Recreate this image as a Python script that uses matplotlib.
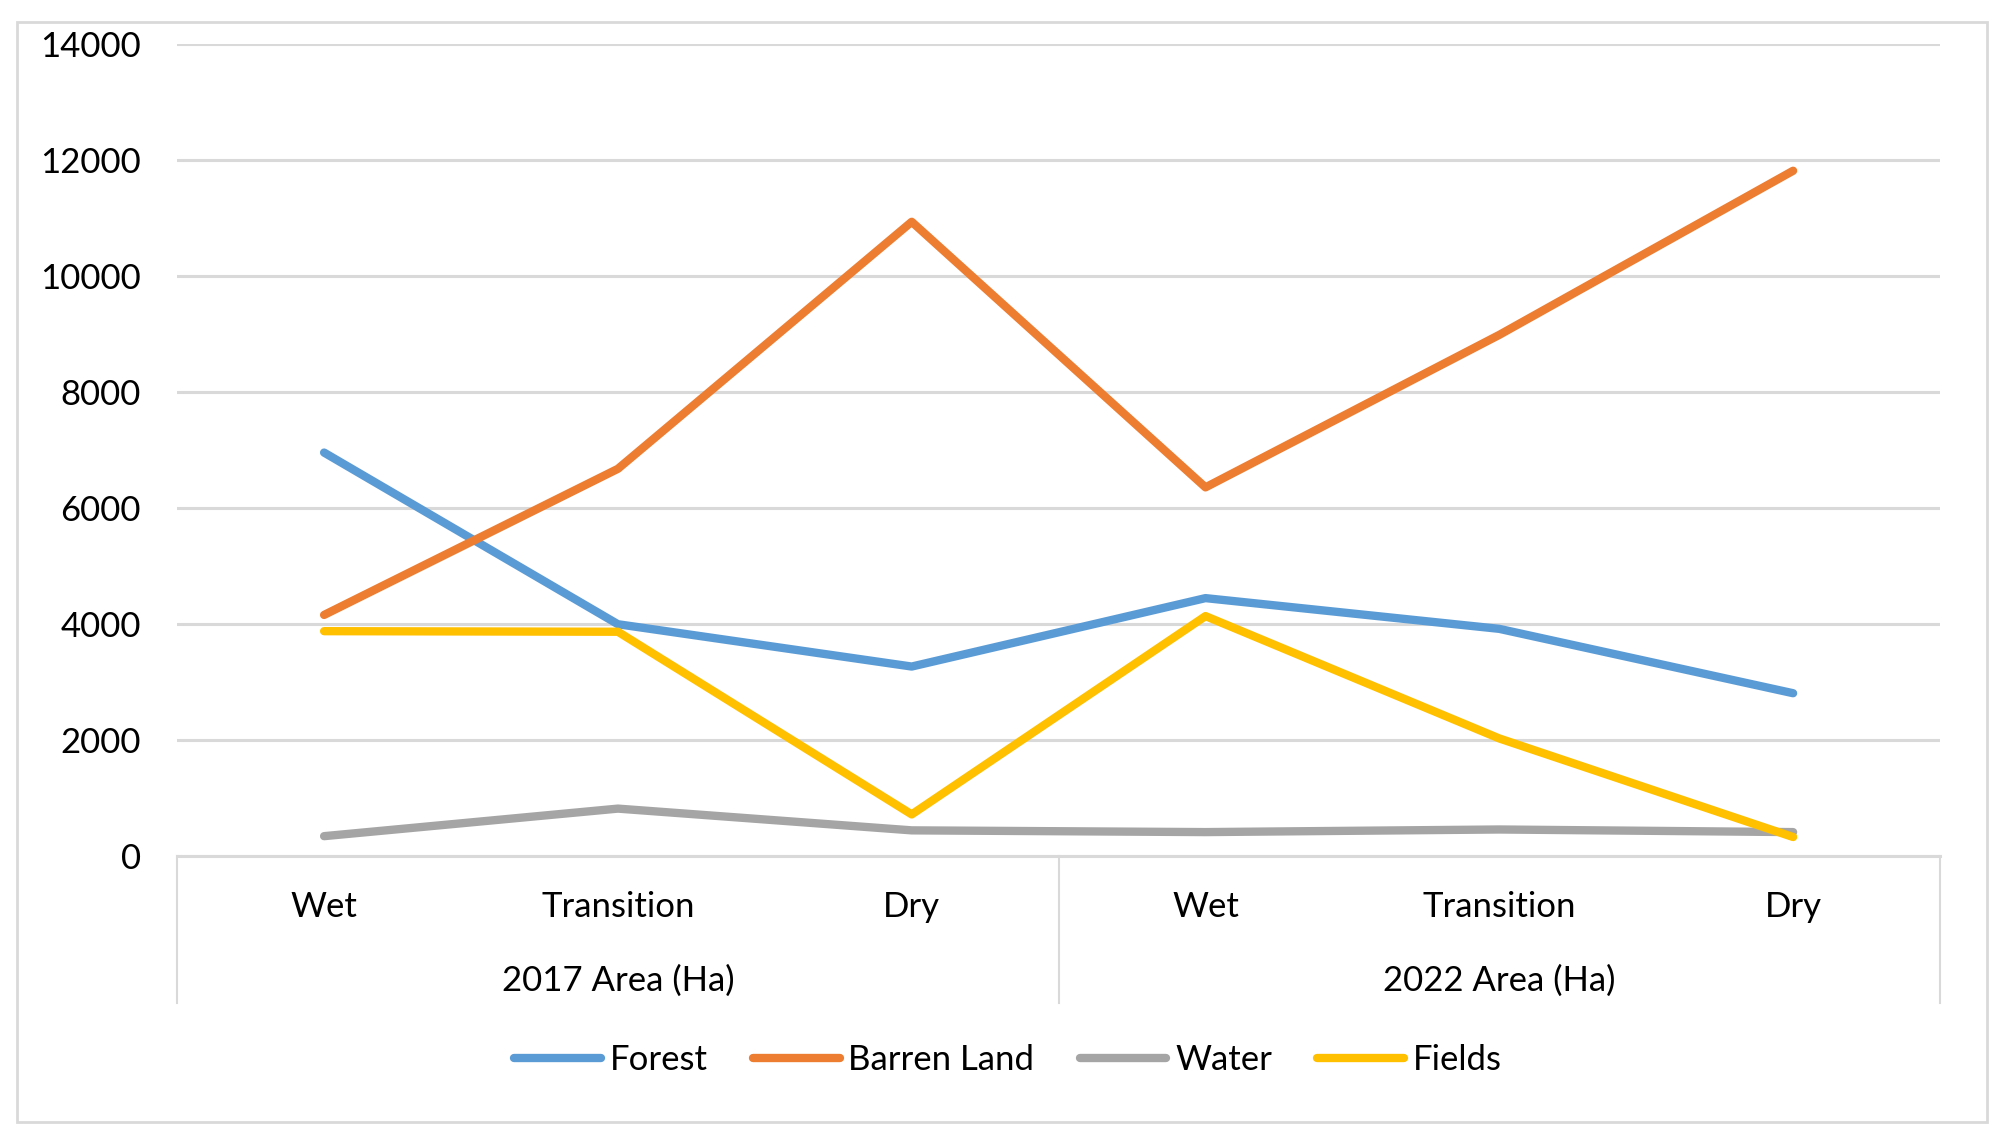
import matplotlib
matplotlib.use("Agg")
import matplotlib.pyplot as plt
import matplotlib.transforms as mtransforms
from matplotlib.patches import Rectangle

plt.rcParams['font.family'] = ['Lato', 'DejaVu Sans']

seasons = ["Wet", "Transition", "Dry", "Wet", "Transition", "Dry"]
groups = ["2017 Area (Ha)", "2022 Area (Ha)"]
group_sizes = [3, 3]

forest = [6960, 4000, 3270, 4450, 3920, 2810]
barren = [4160, 6680, 10940, 6360, 8990, 11820]
water = [345, 820, 445, 415, 460, 415]
fields = [3880, 3870, 720, 4140, 2030, 330]

series_names = ["Forest", "Barren Land", "Water", "Fields"]
series_values = [forest, barren, water, fields]
colors = ["#5B9BD5", "#ED7D31", "#A5A5A5", "#FFC000"]

yticks = [0, 2000, 4000, 6000, 8000, 10000, 12000, 14000]

grid_c = "#D9D9D9"
fs = 25

fig = plt.figure(figsize=(20, 11.37), dpi=100)
ax = fig.add_axes([0.0886, 0.247, 0.970 - 0.0886, 0.961 - 0.247])

x = list(range(len(seasons)))
for name, vals, c in zip(series_names, series_values, colors):
    ax.plot(x, vals, color=c, lw=6, solid_capstyle='round', solid_joinstyle='round', label=name)

ax.set_xlim(-0.5, len(seasons) - 0.5)
ax.set_ylim(yticks[0], yticks[-1])
ax.set_yticks(yticks)
ax.set_yticklabels([str(v) for v in yticks], fontsize=fs, color="#000000")
ax.set_xticks(x)
ax.set_xticklabels(seasons, fontsize=fs, color="#000000")
ax.tick_params(axis='y', length=0, pad=26)
ax.tick_params(axis='x', length=0, pad=25)
ax.yaxis.grid(True, color=grid_c, lw=2.2)
ax.set_axisbelow(True)
for s in ["top", "right", "left"]:
    ax.spines[s].set_visible(False)
ax.spines["bottom"].set_color(grid_c)
ax.spines["bottom"].set_linewidth(2.2)

trans = mtransforms.blended_transform_factory(ax.transData, ax.transAxes)
start = -0.5
bounds = [start]
for g, n in zip(groups, group_sizes):
    center = start + n / 2.0
    ax.text(center, -0.153, g, transform=trans, ha='center', va='center', fontsize=fs, color="#000000")
    start += n
    bounds.append(start)
for b in bounds:
    ax.plot([b, b], [0, -0.181], transform=trans, color=grid_c, lw=1.5, clip_on=False)

fig.legend(loc='center', bbox_to_anchor=(0.504, 0.068), ncol=4, frameon=False,
           fontsize=fs, handlelength=2.5, handletextpad=0.25, columnspacing=1.3)

fig.add_artist(Rectangle((0.0083, 0.0132), 0.985, 0.9677, transform=fig.transFigure,
                         fill=False, edgecolor=grid_c, lw=2))

fig.savefig("out.png", dpi=100)
